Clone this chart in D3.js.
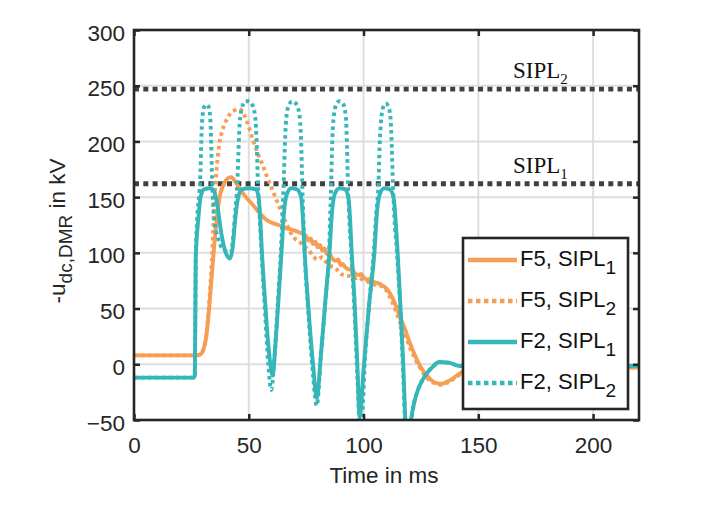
<!DOCTYPE html>
<html><head><meta charset="utf-8">
<script src="https://cdn.jsdelivr.net/npm/d3@7"></script>
<style>body{margin:0;background:#fff}svg{display:block}</style>
</head><body><svg id="c" width="726" height="512"></svg>
<script>
const xTicks = [0, 50, 100, 150, 200];
const yTicks = [-50, 0, 50, 100, 150, 200, 250, 300];
const sipl = [{name: "SIPL", sub: "1", value: 162}, {name: "SIPL", sub: "2", value: 247}];

const f5_sipl1 = [[0,8],[27.5,8],[28.5,8.5],[29.5,10],[30.5,15],[31.5,25],[32.5,45],[33.5,70],[34.5,95],[35.3,115],[36.3,135],[37.5,152],[39,161],[41,167],[42.5,168],[44,164],[46,158],[48,152],[50.5,146],[53,140],[55,135],[57.5,130],[60,127],[63,125],[66.5,122],[70,120],[73.5,117],[75,115],[76,111],[77,113],[78,108],[79,110],[80,105],[81,107],[82,102],[83,104],[84,99],[85,100],[86,96],[88,93],[89,94],[90,89],[91,90],[92,87],[94,85],[95,86],[96,82],[98,80],[99,81],[100,78],[102,76],[103,77],[104,74],[106,73],[108,71],[110,68],[112,62],[114,53],[116,42],[118,32],[120,20],[122,10],[124,1],[126,-6],[128,-11],[130,-15],[132,-17],[134,-17.5],[136,-16],[138,-14],[140,-11],[143,-7],[147,-4],[155,-2],[170,-2],[200,-3],[220,-3]];

const f5_sipl2 = [[0,8],[27.5,8],[28.5,8.5],[29.5,10],[30.5,15],[31.5,26],[32.5,48],[33.5,78],[34.3,110],[35,145],[36,175],[37,195],[38.5,210],[40,218],[42,225],[44,228],[46,229],[47.5,226],[49,219],[50.5,210],[52,200],[54,189],[56,179],[58,168],[60,158],[62,148],[64,138],[66,128],[68,119],[70,113],[72,110],[74,106],[76,103],[78,97],[80,94],[82,96],[84,91],[86,88],[88,86],[90,81],[92,80],[94,79],[96,77],[98,78],[100,75],[102,74],[104,72],[106,71],[108,70],[110,66],[112,58],[114,48],[116,37],[118,27],[120,16],[122,7],[124,-1],[126,-8],[128,-13],[130,-16],[132,-18],[134,-18.5],[136,-17],[138,-15],[140,-12],[143,-8],[147,-5],[155,-3],[170,-2],[200,-3],[220,-3]];

const f2_sipl1 = [[0,-12],[26,-12],[26.5,-10],[26.9,95],[27.3,112],[28,130],[29,150],[30.5,157],[33,158],[35,155],[36.5,140],[38,118],[40,100],[41.8,95],[43,105],[44,128],[45.2,148],[47,157],[50,158],[53,157],[54.3,150],[55,130],[55.7,102],[57,60],[58.5,18],[60.4,-10],[61.5,15],[63,60],[64.3,102],[65.3,135],[66.5,152],[68.5,158],[71,157],[72.8,150],[73.6,130],[74.3,102],[76,50],[78,0],[79.6,-30],[81.5,10],[83.5,60],[85.2,102],[86.2,135],[87.5,153],[89.5,158],[92,157],[93.5,148],[94.2,128],[94.8,102],[96,60],[97.3,0],[98.3,-47],[100,-5],[102.5,55],[104.8,102],[105.8,135],[107,152],[109,158],[111.5,157],[113.2,148],[114,128],[114.8,102],[116,55],[117.3,0],[118.5,-60],[119.5,-70],[120.5,-52],[122,-35],[123.5,-24],[125.7,-14],[128,-7],[130,-2.5],[133,2],[137,1.5],[142,-1.5],[160,-1],[190,-1],[220,-1.5]];

const f2_sipl2 = [[0,-12],[26,-12],[26.5,-10],[26.9,95],[27.5,130],[28.5,155],[29,175],[29.3,200],[29.8,222],[30.6,231],[31.5,233],[32.5,231],[33.2,222],[33.6,200],[33.9,175],[34.2,155],[35,130],[36.5,114],[38.5,104],[42,100],[43,110],[44,135],[45,162],[45.5,190],[46,215],[47,230],[48.5,236],[50,236],[51.5,233],[52.8,222],[53.5,195],[54,162],[54.8,130],[55.5,102],[57,50],[58.5,0],[59.8,-23],[61,0],[62.5,50],[64,102],[64.8,140],[65.2,162],[65.7,195],[66.3,220],[67.5,233],[69,236],[70.5,234],[72,225],[72.8,200],[73.3,162],[73.8,130],[74.3,102],[76,45],[78,-10],[79.6,-37],[81.5,10],[83.5,60],[85,102],[85.5,135],[85.9,162],[86.3,195],[87,222],[88.3,234],[89.5,236],[91,234],[92.3,222],[92.8,195],[93.2,162],[93.8,130],[94.6,102],[96,50],[97.5,-20],[98.5,-60],[99.5,-45],[100.5,0],[102.5,55],[104.5,102],[105.5,135],[106.5,162],[107,195],[107.8,222],[108.8,232],[109.7,234],[110.7,232],[111.7,222],[112.3,195],[112.8,162],[113.5,130],[114.5,102],[116,50],[117.3,-10],[118.5,-70],[119.5,-75],[120.5,-55],[122,-35],[123.5,-24],[125.7,-14],[128,-7],[130,-2.5],[133,2],[137,1.5],[142,-1.5],[160,-1],[190,-1],[220,-1.5]];

const seriesNames = ["F5", "F5", "F2", "F2"];
const seriesSub = ["1", "2", "1", "2"];

const ORANGE = "#F69E56", TEAL = "#35B6B9";
const series = [
  {data: f5_sipl1, color: ORANGE, dash: null},
  {data: f5_sipl2, color: ORANGE, dash: "3.5,3.5"},
  {data: f2_sipl1, color: TEAL, dash: null},
  {data: f2_sipl2, color: TEAL, dash: "3.5,3.5"}
];

const L = 134, R = 639, T = 30, B = 420;
const svg = d3.select("#c");
const x = d3.scaleLinear().domain([0, 220]).range([L, R]);
const y = d3.scaleLinear().domain([-50, 300]).range([B, T]);
const FONT = "'Liberation Sans', Arial, Helvetica, sans-serif";

// grid
const grid = svg.append("g").attr("stroke", "#dedede").attr("stroke-width", 2);
grid.selectAll("line.gx").data(xTicks.filter(d => d > 0)).join("line")
  .attr("x1", d => x(d)).attr("x2", d => x(d)).attr("y1", T).attr("y2", B);
grid.selectAll("line.gy").data(yTicks.filter(d => d > -50 && d < 300)).join("line")
  .attr("class","gy").attr("x1", L).attr("x2", R).attr("y1", d => y(d)).attr("y2", d => y(d));

// clip
svg.append("clipPath").attr("id", "clip").append("rect")
  .attr("x", L).attr("y", T).attr("width", R - L).attr("height", B - T);

// SIPL lines
const pl = svg.append("g").attr("clip-path", "url(#clip)");
pl.selectAll("line.sipl").data(sipl).join("line")
  .attr("x1", L).attr("x2", R).attr("y1", d => y(d.value)).attr("y2", d => y(d.value))
  .attr("stroke", "#404040").attr("stroke-width", 4.8).attr("stroke-dasharray", "5,4.3");

// curves
const line = d3.line().x(d => x(d[0])).y(d => y(d[1])).curve(d3.curveMonotoneX);
pl.selectAll("path.s").data(series).join("path")
  .attr("d", d => line(d.data)).attr("fill", "none")
  .attr("stroke", d => d.color).attr("stroke-width", 3.9)
  .attr("stroke-dasharray", d => d.dash).attr("stroke-linejoin", "round");

// SIPL labels
const sl = svg.selectAll("text.sipl").data(sipl).join("text")
  .attr("x", 513).attr("y", d => y(d.value) - 11)
  .attr("font-family", "'Liberation Serif', 'Times New Roman', serif").attr("font-size", 23).attr("fill", "#111");
sl.append("tspan").text(d => d.name);
sl.append("tspan").attr("dy", 6).attr("font-size", 15).text(d => d.sub);

// axes
const ax = d3.axisLeft(y).tickValues(yTicks).tickSizeInner(-6).tickSizeOuter(0).tickPadding(9);
const gy = svg.append("g").attr("transform", `translate(${L},0)`).call(ax);
const bx = d3.axisBottom(x).tickValues(xTicks).tickSizeInner(-6).tickSizeOuter(0).tickPadding(17);
const gx = svg.append("g").attr("transform", `translate(0,${B})`).call(bx);
const tx = d3.axisTop(x).tickValues(xTicks).tickSizeInner(-6).tickSizeOuter(0).tickFormat("");
const gt = svg.append("g").attr("transform", `translate(0,${T})`).call(tx);
const ry = d3.axisRight(y).tickValues(yTicks).tickSizeInner(-6).tickSizeOuter(0).tickFormat("");
const gr = svg.append("g").attr("transform", `translate(${R},0)`).call(ry);
[gy, gx, gt, gr].forEach(g => {
  g.select(".domain").remove();
  g.selectAll(".tick line").attr("stroke", "#262626").attr("stroke-width", 2.5);
  g.selectAll("text").attr("font-family", FONT).attr("font-size", 22.5).attr("fill", "#262626");
});
gy.selectAll("text").attr("dy", "0.45em");

// frame
svg.append("rect").attr("x", L).attr("y", T).attr("width", R - L).attr("height", B - T)
  .attr("fill", "none").attr("stroke", "#262626").attr("stroke-width", 2.6);

// axis labels
svg.append("text").attr("x", 384).attr("y", 483).attr("text-anchor", "middle")
  .attr("font-family", FONT).attr("font-size", 22.5).attr("fill", "#262626").text("Time in ms");
const yl = svg.append("text").attr("transform", "translate(65,231) rotate(-90)")
  .attr("text-anchor", "middle").attr("font-family", FONT).attr("font-size", 22.5).attr("fill", "#262626");
yl.append("tspan").text("-u");
yl.append("tspan").attr("dy", 7).attr("font-size", 19).text("dc,DMR");
yl.append("tspan").attr("dy", -7).text(" in kV");

// legend
const lg = svg.append("g");
lg.append("rect").attr("x", 463).attr("y", 238).attr("width", 165).attr("height", 171)
  .attr("fill", "#fff").attr("stroke", "#262626").attr("stroke-width", 2.6);
const rows = lg.selectAll("g.row").data(series).join("g")
  .attr("transform", (d, i) => `translate(0,${260 + i * 41})`);
rows.append("line").attr("x1", 468).attr("x2", 517).attr("y1", 0).attr("y2", 0)
  .attr("stroke", d => d.color).attr("stroke-width", 4.5)
  .attr("stroke-dasharray", d => d.dash ? "4.5,3.5" : null);
const lt = rows.append("text").attr("x", 520).attr("y", 6)
  .attr("font-family", FONT).attr("font-size", 22).attr("fill", "#111");
lt.append("tspan").text((d, i) => seriesNames[i] + ", SIPL");
lt.append("tspan").attr("dy", 8).attr("font-size", 19).text((d, i) => seriesSub[i]);
</script></body></html>
